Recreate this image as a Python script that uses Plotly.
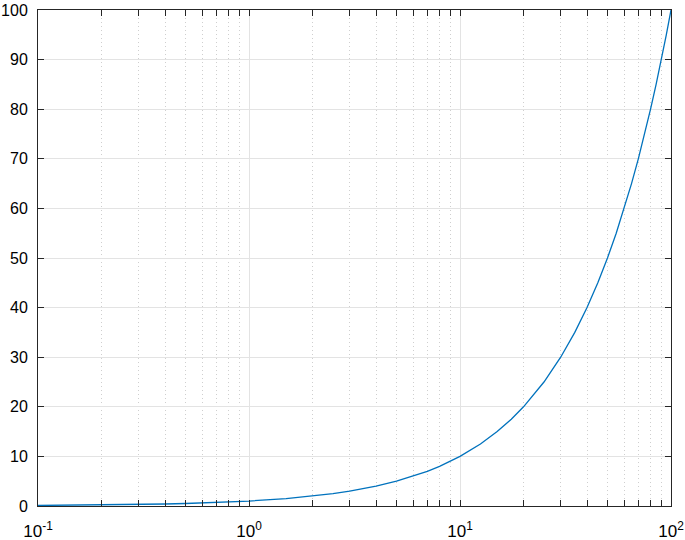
import plotly.graph_objects as go

# values
x_vals = [0.1, 0.2, 0.3, 0.4, 0.5, 0.6, 0.7, 0.8, 0.9,
          1, 1.5, 2, 2.5, 3, 4, 5, 6, 7, 8, 9,
          10, 12.5, 15, 17.5, 20, 25, 30, 35, 40, 45, 50, 55, 60, 65, 70, 75, 80, 85, 90, 95, 100]
y_vals = [0.1, 0.2, 0.3, 0.4, 0.5, 0.6, 0.7, 0.8, 0.9,
          1, 1.5, 2, 2.5, 3, 4, 5, 6, 7, 8, 9,
          10, 12.5, 15, 17.5, 20, 25, 30, 35, 40, 45, 50, 55, 60, 65, 70, 75, 80, 85, 90, 95, 100]

x_ticks = [0.1, 1, 10, 100]
x_ticktext = ['10<sup>-1</sup>', '10<sup>0</sup>', '10<sup>1</sup>', '10<sup>2</sup>']
y_ticks = [0, 10, 20, 30, 40, 50, 60, 70, 80, 90, 100]

axis_col = '#262626'
grid_col = '#e3e3e3'

fig = go.Figure()
fig.add_trace(go.Scatter(
    x=x_vals, y=y_vals,
    mode='lines',
    line=dict(color='#0072BD', width=1.3),
    showlegend=False,
    cliponaxis=False,
))

fig.update_xaxes(
    type='log',
    range=[-1, 2],
    tickvals=x_ticks,
    ticktext=x_ticktext,
    ticks='inside', ticklen=6, tickcolor=axis_col,
    showline=True, linecolor=axis_col, linewidth=1, mirror='ticks',
    showgrid=True, gridcolor=grid_col, gridwidth=1,
    zeroline=False, automargin=False,
    ticklabelstandoff=10,
    tickfont=dict(size=17, color='black'),
    minor=dict(dtick='D1', ticks='inside', ticklen=6, tickcolor=axis_col,
               showgrid=True, gridcolor='#cfcfcf', griddash='1px,3px', gridwidth=1),
)
fig.update_yaxes(
    range=[0, 100],
    tickvals=y_ticks,
    ticks='inside', ticklen=6, tickcolor=axis_col,
    showline=True, linecolor=axis_col, linewidth=1, mirror='ticks',
    showgrid=True, gridcolor=grid_col, gridwidth=1,
    zeroline=False, automargin=False,
    ticklabelstandoff=6,
    tickfont=dict(size=16, color='black'),
)
fig.update_layout(
    width=685, height=540,
    margin=dict(l=38, r=14, t=10, b=34),
    plot_bgcolor='white', paper_bgcolor='white',
    font=dict(family='Liberation Sans, Arial, sans-serif'),
)
fig.write_html("out.html", config={'displayModeBar': False},
               post_script="document.body.style.margin='0';")
